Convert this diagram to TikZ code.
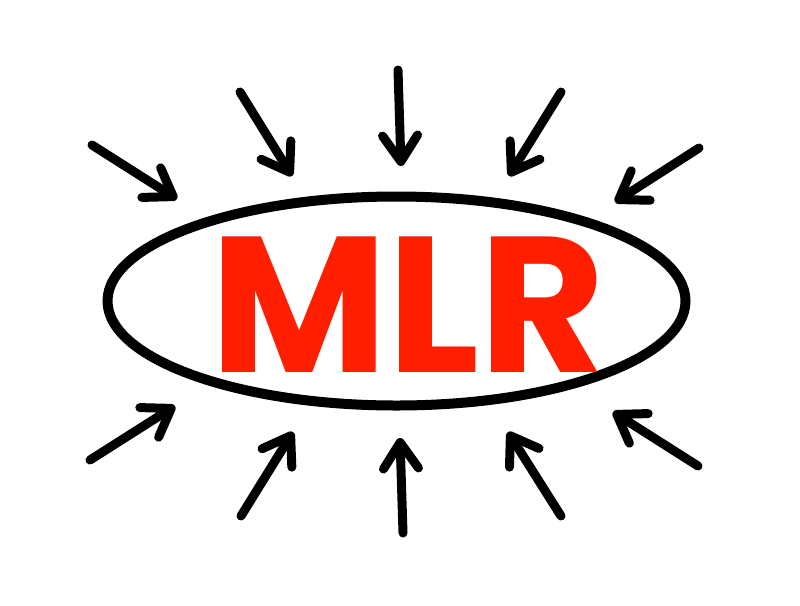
\documentclass[tikz,border=0pt]{standalone}
\usepackage{fontspec}
\newfontfamily\handfont{Poppins}
\usetikzlibrary{shapes.geometric,arrows.meta}
\definecolor{mlrred}{RGB}{255,30,0}
\tikzset{
  ring/.style={ellipse, draw=black, line width=10*0.02cm, minimum width=578*0.02cm, minimum height=209*0.02cm, inner sep=0pt},
  label/.style={text=mlrred, font=\handfont\bfseries\fontsize{110}{110}\selectfont, inner sep=0pt},
  inarrow/.style={line width=9*0.02cm, line cap=round, -{Straight Barb[round, length=0.52cm, width=0.7cm]}}
}
\begin{document}
\begin{tikzpicture}[x=0.02cm,y=-0.02cm]
\useasboundingbox[fill=white] (0,0) rectangle (800,605);
\node[ring] (e) at (396.5,301) {};
\node[label] (t) at (408,305) {MLR};
% arrow tails and tips
\coordinate (a1) at (92,145);  \coordinate (b1) at (177,199);
\coordinate (a2) at (240,92);  \coordinate (b2) at (292,176);
\coordinate (a3) at (398,70);  \coordinate (b3) at (401,166);
\coordinate (a4) at (561,92);  \coordinate (b4) at (509,176);
\coordinate (a5) at (699,148); \coordinate (b5) at (615,202);
\coordinate (a6) at (90,460);  \coordinate (b6) at (175,406);
\coordinate (a7) at (241,516); \coordinate (b7) at (293,432);
\coordinate (a8) at (403,533); \coordinate (b8) at (400,438);
\coordinate (a9) at (561,516); \coordinate (b9) at (508,432);
\coordinate (a10) at (698,466); \coordinate (b10) at (613,412);
\foreach \i in {1,...,10} { \draw[inarrow] (a\i) -- (b\i); }
\end{tikzpicture}
\end{document}
